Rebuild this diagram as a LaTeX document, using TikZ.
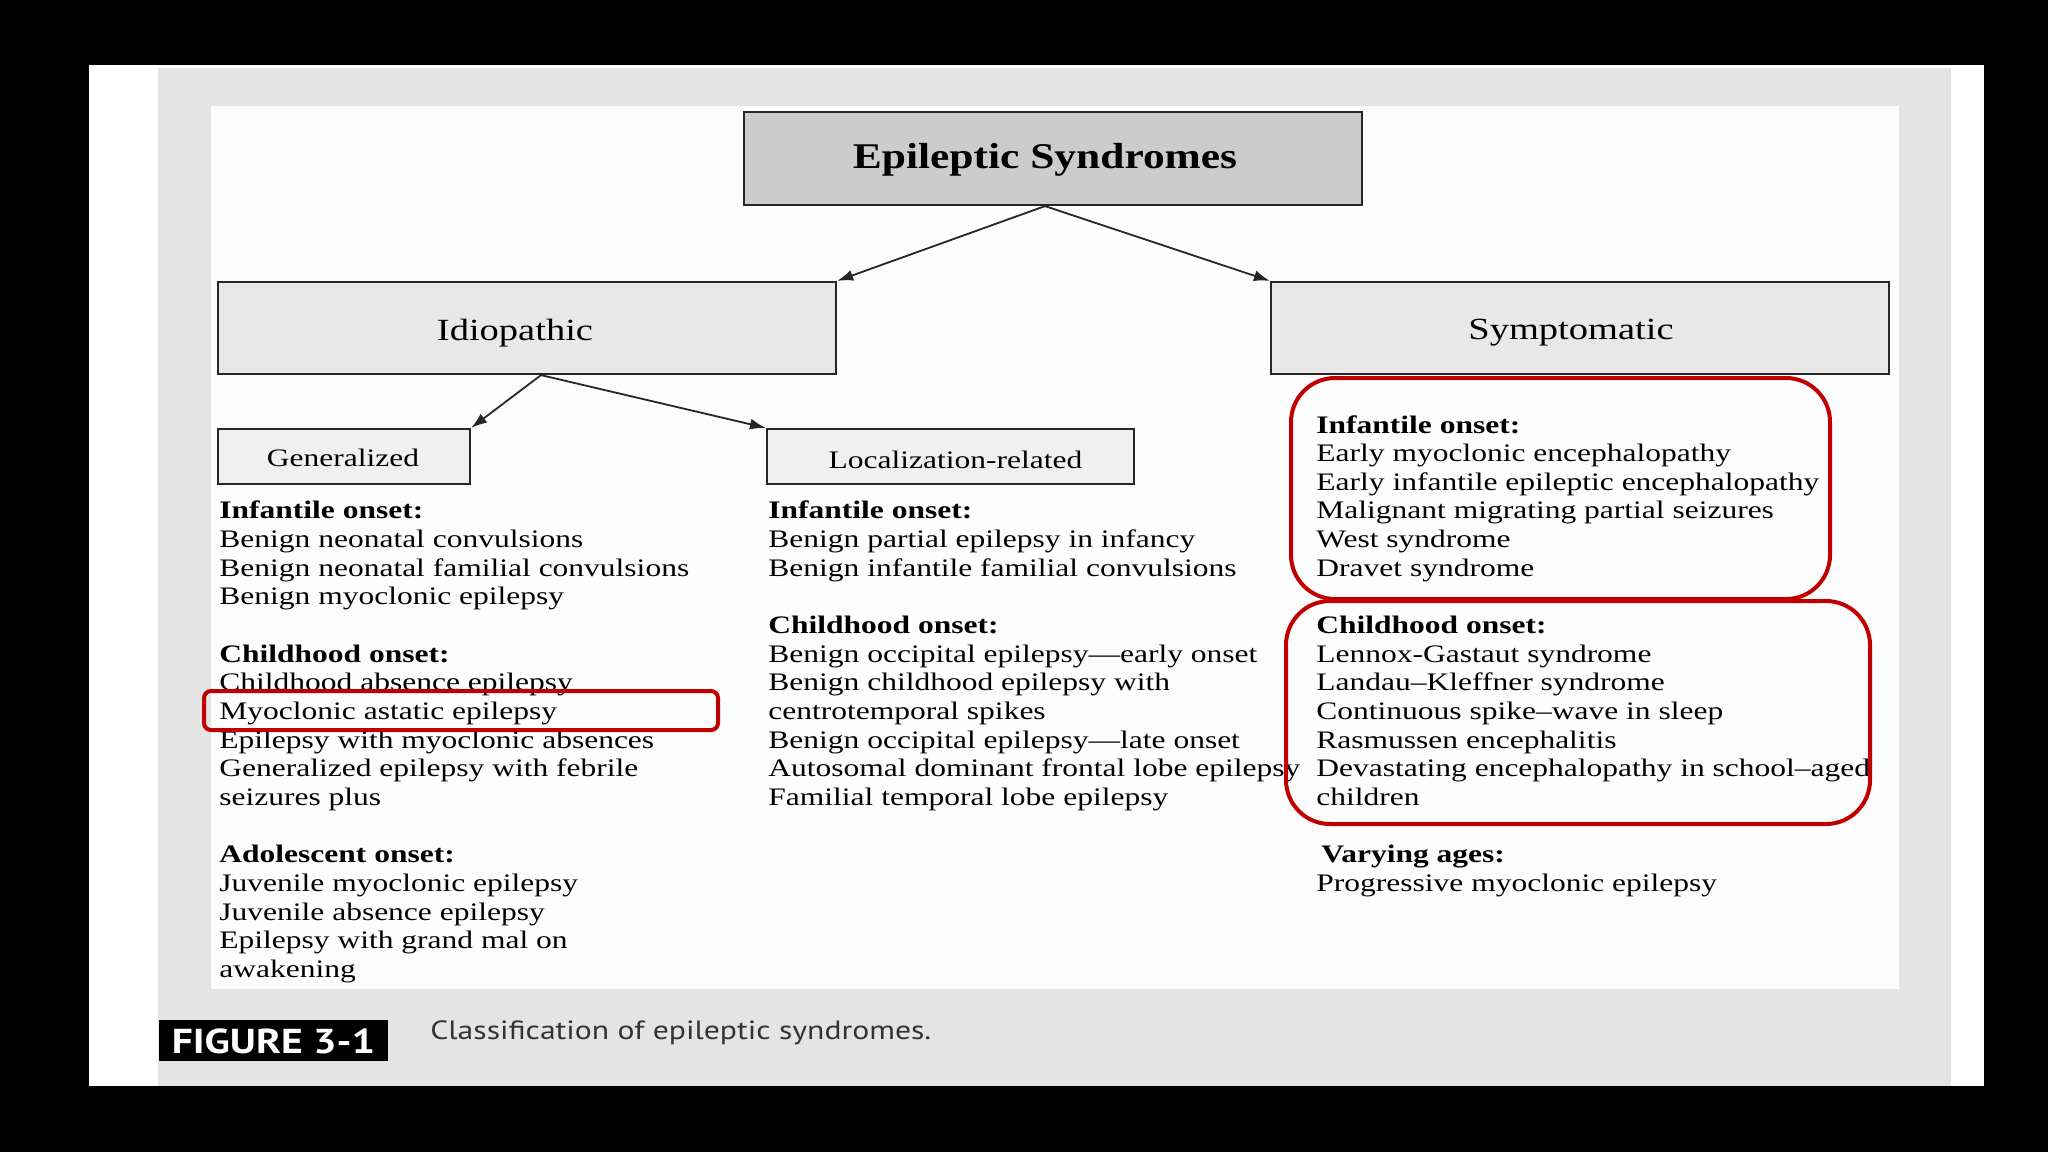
\documentclass[tikz,border=0pt]{standalone}
\usepackage{fontspec}
\setmainfont{Liberation Serif}[FakeStretch=1.25]
\newfontfamily\headfont{Liberation Serif}[FakeStretch=1.2]
\newfontfamily\capfont{PT Sans}[FakeStretch=1.2]
\usetikzlibrary{arrows.meta}
\definecolor{panelgray}{HTML}{E4E4E4}
\definecolor{innerwhite}{HTML}{FDFDFD}
\definecolor{esfill}{HTML}{CCCCCC}
\definecolor{lvlone}{HTML}{E8E8E8}
\definecolor{lvltwo}{HTML}{F0F0F0}
\definecolor{redmark}{HTML}{C00000}
\definecolor{capgray}{HTML}{333333}
\begin{document}
\begin{tikzpicture}[x=0.5pt,y=-0.5pt,
  boxnode/.style={draw=black!85, line width=1.1pt, inner sep=0pt},
  lbl/.style={inner sep=0pt},
  txt/.style={anchor=base west, inner sep=0pt, font=\fontsize{12.6pt}{14.33pt}\selectfont},
  arr/.style={-{Latex[length=8pt,width=5.5pt]}, line width=0.9pt, draw=black!85},
  redbox/.style={draw=redmark, line width=2pt}]
% background
\fill[black] (0,0) rectangle (2048,1152);
\fill[white] (89,65) rectangle (1984,1086);
\fill[panelgray] (158,68) rectangle (1951,1086);
\fill[innerwhite] (211,106) rectangle (1899,989);
% hierarchy boxes
\node[boxnode, fill=esfill, minimum width=309pt, minimum height=46.5pt] (es) at (1053,158.5) {};
\node[lbl, font=\headfont\bfseries\fontsize{18.1pt}{20pt}\selectfont] (est) at ([xshift=-4pt,yshift=-0.5pt]es.center) {Epileptic Syndromes};
\node[boxnode, fill=lvlone, minimum width=309pt, minimum height=46pt] (idio) at (527,328) {};
\node[lbl, font=\fontsize{15.4pt}{18pt}\selectfont] (idiot) at ([xshift=-6pt,yshift=-2.5pt]idio.center) {Idiopathic};
\node[boxnode, fill=lvlone, minimum width=309pt, minimum height=46pt] (symp) at (1580,328) {};
\node[lbl, font=\fontsize{15.4pt}{18pt}\selectfont] (sympt) at ([xshift=-4.5pt,yshift=-2.5pt]symp.center) {Symptomatic};
\node[boxnode, fill=lvltwo, minimum width=126pt, minimum height=27.5pt] (gen) at (344,456.5) {};
\node[lbl, font=\fontsize{12.6pt}{15pt}\selectfont] (gent) at ([xshift=-0.5pt,yshift=-0.5pt]gen.center) {Generalized};
\node[boxnode, fill=lvltwo, minimum width=183.5pt, minimum height=27.5pt] (loc) at (950.5,456.5) {};
\node[lbl, font=\fontsize{12.6pt}{15pt}\selectfont] (loct) at ([xshift=2.5pt,yshift=-1.5pt]loc.center) {Localization-related};
% connectors
\coordinate (esout) at ([xshift=-4pt]es.south);
\coordinate (idout) at ([xshift=7pt]idio.south);
\draw[arr] (esout) -- (idio.north east);
\draw[arr] (esout) -- (symp.north west);
\draw[arr] (idout) -- (gen.north east);
\draw[arr] (idout) -- (loc.north west);
% left column
\node[txt] (a3) at (219,{433+28.65*3}) {\bfseries Infantile onset:};
\foreach \t [count=\i from 4] in {Benign neonatal convulsions, Benign neonatal familial convulsions, Benign myoclonic epilepsy}
  \node[txt] (a\i) at (219,{433+28.65*\i}) {\t};
\node[txt] (a8) at (219,{433+28.65*8}) {\bfseries Childhood onset:};
\foreach \t [count=\i from 9] in {Childhood absence epilepsy, Myoclonic astatic epilepsy, Epilepsy with myoclonic absences, Generalized epilepsy with febrile, seizures plus}
  \node[txt] (a\i) at (219,{433+28.65*\i}) {\t};
\node[txt] (a15) at (219,{433+28.65*15}) {\bfseries Adolescent onset:};
\foreach \t [count=\i from 16] in {Juvenile myoclonic epilepsy, Juvenile absence epilepsy, Epilepsy with grand mal on, awakening}
  \node[txt] (a\i) at (219,{433+28.65*\i}) {\t};
% middle column
\node[txt] (b3) at (768,{433+28.65*3}) {\bfseries Infantile onset:};
\foreach \t [count=\i from 4] in {Benign partial epilepsy in infancy, Benign infantile familial convulsions}
  \node[txt] (b\i) at (768,{433+28.65*\i}) {\t};
\node[txt] (b7) at (768,{433+28.65*7}) {\bfseries Childhood onset:};
\foreach \t [count=\i from 8] in {Benign occipital epilepsy—early onset, Benign childhood epilepsy with, centrotemporal spikes, Benign occipital epilepsy—late onset, Autosomal dominant frontal lobe epilepsy, Familial temporal lobe epilepsy}
  \node[txt] (b\i) at (768,{433+28.65*\i}) {\t};
% right column
\node[txt] (c0) at (1316,433) {\bfseries Infantile onset:};
\foreach \t [count=\i from 1] in {Early myoclonic encephalopathy, Early infantile epileptic encephalopathy, Malignant migrating partial seizures, West syndrome, Dravet syndrome}
  \node[txt] (c\i) at (1316,{433+28.65*\i}) {\t};
\node[txt] (c7) at (1316,{433+28.65*7}) {\bfseries Childhood onset:};
\foreach \t [count=\i from 8] in {Lennox-Gastaut syndrome, Landau–Kleffner syndrome, Continuous spike–wave in sleep, Rasmussen encephalitis, Devastating encephalopathy in school–aged, children}
  \node[txt] (c\i) at (1316,{433+28.65*\i}) {\t};
\node[txt] (c15) at (1321,{433+28.65*15}) {\bfseries Varying ages:};
\node[txt] (c16) at (1316,{433+28.65*16}) {Progressive myoclonic epilepsy};
% red highlight boxes
\draw[redbox, rounded corners=22pt] (1291,378) rectangle (1830,599);
\draw[redbox, rounded corners=22pt] (1286,601) rectangle (1870,824);
\draw[redbox, rounded corners=3.5pt] (204,691) rectangle (718,730);
% caption
\node[fill=black, inner sep=0pt, minimum width=114.5pt, minimum height=20.5pt] (fig) at (273.5,1040.5) {};
\node[lbl, text=white, font=\capfont\bfseries\fontsize{17.3pt}{19pt}\selectfont] (figt) at ([yshift=-0.5pt]fig.center) {FIGURE 3-1};
\node[anchor=base west, inner sep=0pt, text=capgray,
      font=\capfont\fontsize{13.2pt}{15pt}\selectfont] (cap) at (430,1039) {Classification of epileptic syndromes.};
\end{tikzpicture}
\end{document}
